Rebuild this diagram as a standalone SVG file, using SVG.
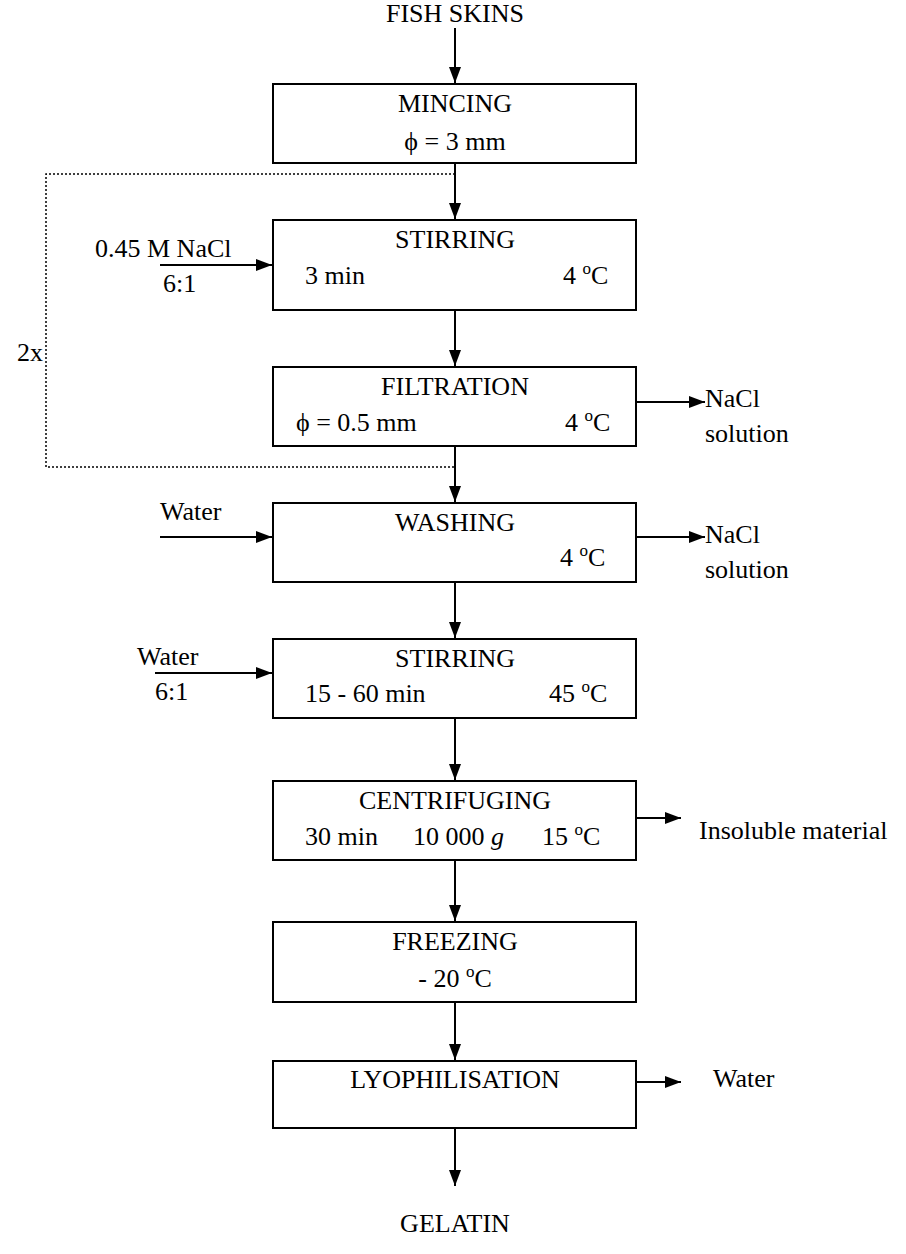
<svg xmlns="http://www.w3.org/2000/svg" width="906" height="1254" viewBox="0 0 906 1254" font-family="'Liberation Serif', 'DejaVu Serif', serif">
<defs>
<marker id="ah" markerWidth="16" markerHeight="12" refX="16" refY="6" orient="auto" markerUnits="userSpaceOnUse"><path d="M0,0 L16,6 L0,12 z" fill="#000"/></marker>
<style>
text{font-family:'Liberation Serif','DejaVu Serif',serif;font-size:26px;fill:#000}
.m{text-anchor:middle}
rect.b{fill:#fff;stroke:#000;stroke-width:2}
.c line,.c path{stroke:#000;stroke-width:2;fill:none}
.c .a{marker-end:url(#ah)}
.s{font-size:17px}
</style>
</defs>
<rect width="906" height="1254" fill="#fff"/>
<g class="c">
<path d="M455,174 H46 V467 H455" style="stroke-dasharray:2,2;stroke-width:1.5"/>
<line class="a" x1="455" y1="28" x2="455" y2="83"/>
<line class="a" x1="455" y1="163" x2="455" y2="219"/>
<line class="a" x1="455" y1="310" x2="455" y2="366"/>
<line class="a" x1="455" y1="446" x2="455" y2="502"/>
<line class="a" x1="455" y1="582" x2="455" y2="638"/>
<line class="a" x1="455" y1="718" x2="455" y2="780"/>
<line class="a" x1="455" y1="860" x2="455" y2="921"/>
<line class="a" x1="455" y1="1002" x2="455" y2="1060"/>
<line class="a" x1="455" y1="1128" x2="455" y2="1186"/>
<line class="a" x1="160" y1="265" x2="272" y2="265"/>
<line class="a" x1="160" y1="537" x2="272" y2="537"/>
<line class="a" x1="155" y1="673" x2="272" y2="673"/>
<line class="a" x1="636" y1="402" x2="705" y2="402"/>
<line class="a" x1="636" y1="537" x2="705" y2="537"/>
<line class="a" x1="636" y1="818" x2="681" y2="818"/>
<line class="a" x1="636" y1="1082" x2="681" y2="1082"/>
</g>
<text class="m" x="455" y="22">FISH SKINS</text>
<g id="mincing"><rect class="b" x="273" y="84" width="363" height="79"/><text class="m" x="455" y="112">MINCING</text><text class="m" x="455" y="150">ϕ = 3 mm</text></g>
<g id="stirring1"><rect class="b" x="273" y="220" width="363" height="90"/><text class="m" x="455" y="248">STIRRING</text><text x="305" y="284">3 min</text><text x="563" y="284">4 <tspan class="s" dy="-10">o</tspan><tspan dy="10">C</tspan></text></g>
<g id="filtration"><rect class="b" x="273" y="367" width="363" height="79"/><text class="m" x="455" y="395">FILTRATION</text><text x="296" y="431">ϕ = 0.5 mm</text><text x="565" y="431">4 <tspan class="s" dy="-10">o</tspan><tspan dy="10">C</tspan></text></g>
<g id="washing"><rect class="b" x="273" y="503" width="363" height="79"/><text class="m" x="455" y="531">WASHING</text><text x="560" y="566">4 <tspan class="s" dy="-10">o</tspan><tspan dy="10">C</tspan></text></g>
<g id="stirring2"><rect class="b" x="273" y="639" width="363" height="79"/><text class="m" x="455" y="667">STIRRING</text><text x="305" y="702">15 - 60 min</text><text x="549" y="702">45 <tspan class="s" dy="-10">o</tspan><tspan dy="10">C</tspan></text></g>
<g id="centrifuging"><rect class="b" x="273" y="781" width="363" height="79"/><text class="m" x="455" y="809">CENTRIFUGING</text><text x="305" y="845">30 min</text><text x="413" y="845">10 000 <tspan font-style="italic">g</tspan></text><text x="542" y="845">15 <tspan class="s" dy="-10">o</tspan><tspan dy="10">C</tspan></text></g>
<g id="freezing"><rect class="b" x="273" y="922" width="363" height="80"/><text class="m" x="455" y="950">FREEZING</text><text class="m" x="455" y="987">- 20 <tspan class="s" dy="-10">o</tspan><tspan dy="10">C</tspan></text></g>
<g id="lyophilisation"><rect class="b" x="273" y="1061" width="363" height="67"/><text class="m" x="455" y="1088">LYOPHILISATION</text></g>
<text class="m" x="455" y="1232">GELATIN</text>
<text x="95" y="257">0.45 M NaCl</text>
<text x="163" y="292">6:1</text>
<text x="17" y="361">2x</text>
<text x="160" y="520">Water</text>
<text x="137" y="665">Water</text>
<text x="155" y="700">6:1</text>
<text x="705" y="407">NaCl</text>
<text x="705" y="442">solution</text>
<text x="705" y="543">NaCl</text>
<text x="705" y="578">solution</text>
<text x="699" y="839">Insoluble material</text>
<text x="713" y="1087">Water</text>
</svg>
